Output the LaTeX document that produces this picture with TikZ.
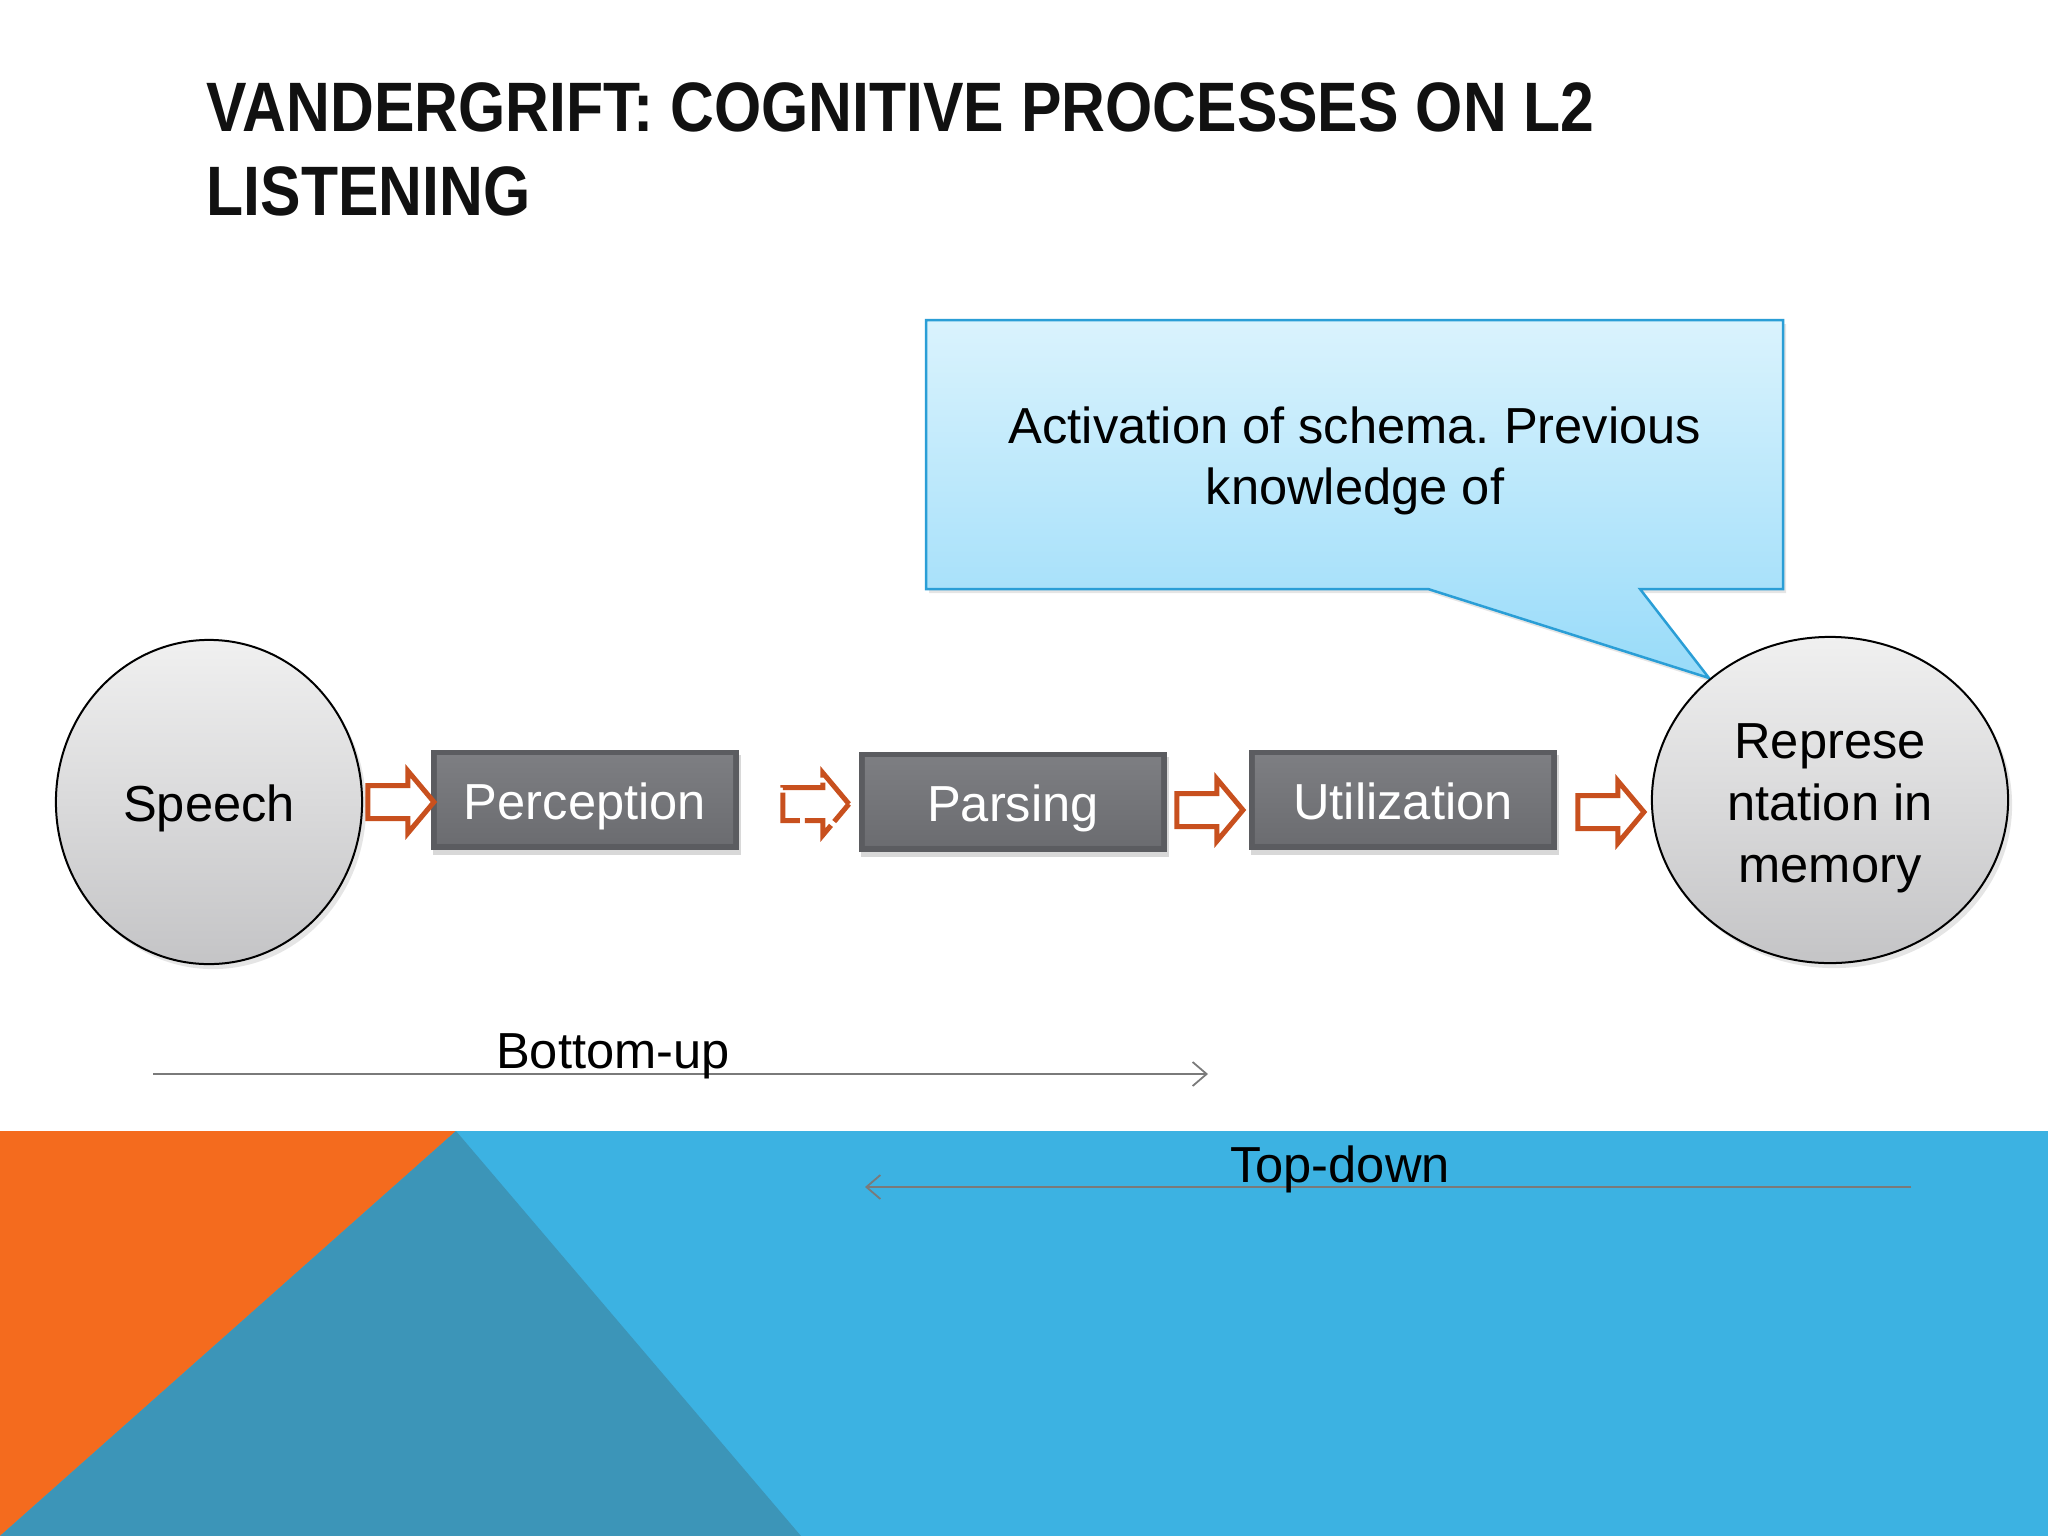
\documentclass[tikz,border=0pt]{standalone}
\usepackage{fontspec}
\setmainfont{Liberation Sans}
\usetikzlibrary{shapes.geometric,shapes.arrows,shadows,arrows.meta}
\definecolor{arroworange}{HTML}{C8501E}
\definecolor{bandorange}{HTML}{F46B1E}
\definecolor{bandblue}{HTML}{3CB2E2}
\definecolor{bandteal}{HTML}{3C95B8}
\definecolor{calloutedge}{HTML}{2A9ED6}
\definecolor{callouttop}{HTML}{DAF3FD}
\definecolor{calloutbot}{HTML}{98DBF9}
\definecolor{boxedge}{HTML}{5B5C60}
\definecolor{boxtop}{HTML}{7E7F83}
\definecolor{boxbot}{HTML}{6A6B6F}
\definecolor{linegray}{HTML}{7A7A7A}
\definecolor{circtop}{HTML}{F0F0F0}
\definecolor{circbot}{HTML}{C4C4C6}
\definecolor{titleblack}{HTML}{111111}
\frenchspacing
\begin{document}
\begin{tikzpicture}[x=0.01cm,y=-0.01cm,
  lbl/.style={font=\fontsize{14.4pt}{17.3pt}\selectfont, inner sep=0pt},
  titlestyle/.style={font=\fontsize{19.9pt}{24pt}\selectfont\bfseries, text=titleblack, inner sep=0pt, anchor=base west},
  circ/.style={ellipse, draw=black, line width=0.02cm, top color=circtop, bottom color=circbot, inner sep=0pt,
    drop shadow={opacity=0.2, shadow xshift=0.04cm, shadow yshift=-0.05cm},
    font=\fontsize{14.4pt}{17.3pt}\selectfont, text height=0.40cm, text depth=0.02cm},
  procbox/.style={rectangle, minimum width=3.08cm, minimum height=0.99cm, fill=boxedge, draw=none,
    text=white, font=\fontsize{14.4pt}{17.3pt}\selectfont, text height=0.40cm, text depth=0.02cm,
    drop shadow={opacity=0.3, shadow xshift=0.02cm, shadow yshift=-0.05cm},
    path picture={\shade[top color=boxtop, bottom color=boxbot]
      ([xshift=0.06cm,yshift=0.06cm]path picture bounding box.south west) rectangle
      ([xshift=-0.06cm,yshift=-0.05cm]path picture bounding box.north east);}},
  blockarrow/.style={single arrow, draw=arroworange, line width=0.05cm, fill=white,
    minimum height=0.66cm, minimum width=0.58cm, single arrow head extend=0.145cm,
    single arrow tip angle=100, inner sep=0.14cm, outer sep=0pt},
  guide/.style={draw=linegray, line width=0.018cm},
]
% background
\fill[white] (0,0) rectangle (2048,1536);
\useasboundingbox (0,0) rectangle (2048,1536);

% title
\node[titlestyle] (t1) at (206,131) {\scalebox{0.867}[1]{VANDERGRIFT: COGNITIVE PROCESSES ON L2}};
\node[titlestyle] (t2) at (206,215) {\scalebox{0.867}[1]{LISTENING}};

% bottom band
\fill[bandblue] (0,1131) rectangle (2048,1536);
\fill[bandorange] (0,1131) -- (456,1131) -- (0,1536) -- cycle;
\fill[bandteal] (456,1131) -- (801,1536) -- (0,1536) -- cycle;

% callout
\coordinate (tip) at (1709,678);
\path[draw=calloutedge, line width=0.025cm, top color=callouttop, bottom color=calloutbot,
  drop shadow={opacity=0.2, shadow xshift=0.03cm, shadow yshift=-0.04cm}]
  (926,320) -- (1783,320) -- (1783,589) -- (1640,589) -- (tip) -- (1428,589) -- (926,589) -- cycle;
\node[lbl, anchor=base] (c1) at (1355,443) {Activation of schema. Previous};
\node[lbl, anchor=base] (c2) at (1355,504) {knowledge of};

% circles
\node[circ, minimum width=3.06cm, minimum height=3.24cm] (speech) at (209,802) {Speech};
\node[circ, minimum width=3.56cm, minimum height=3.26cm] (repr) at (1830,800) {};
\node[lbl, anchor=base] (r1) at (1830,758) {Represe};
\node[lbl, anchor=base] (r2) at (1830,820) {ntation in};
\node[lbl, anchor=base] (r3) at (1830,882) {memory};

% process boxes
\node[procbox] (perc) at (585,800) {Perception};
\node[procbox] (pars) at (1013,802) {Parsing};
\node[procbox] (util) at (1403,800) {Utilization};

% block arrows
\node[blockarrow] (a1) at (394,802) {};
\node[blockarrow, dash pattern=on 0.45cm off 0.05cm] (a2) at (809,804) {};
\node[blockarrow] (a3) at (1203,810) {};
\node[blockarrow] (a4) at (1604,812) {};

% bottom-up / top-down
\coordinate (bu1) at (153,1074);
\coordinate (bu2) at (1208,1074);
\draw[guide, -{Straight Barb[length=0.14cm,width=0.24cm]}] (bu1) -- (bu2);
\node[lbl, anchor=base] (bu) at (613,1068) {Bottom-up};

\coordinate (td1) at (1911,1187);
\coordinate (td2) at (865,1187);
\draw[guide, -{Straight Barb[length=0.14cm,width=0.24cm]}] (td1) -- (td2);
\node[lbl, anchor=base] (td) at (1340,1182) {Top-down};
\end{tikzpicture}
\end{document}
